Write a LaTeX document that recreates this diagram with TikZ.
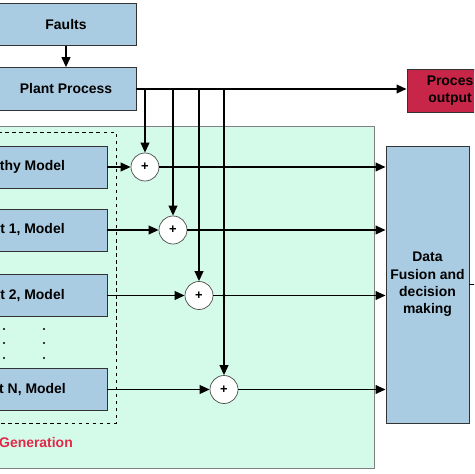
\documentclass[tikz,border=0pt]{standalone}
\usepackage{xcolor}
\usepackage{fontspec}
\setmainfont{Liberation Sans}
\usetikzlibrary{shapes.geometric, arrows.meta}
\definecolor{boxblue}{RGB}{170,204,226}
\definecolor{outred}{RGB}{200,38,72}
\definecolor{resgreen}{RGB}{212,250,234}
\definecolor{labelred}{RGB}{226,40,72}
\tikzstyle{block} = [rectangle, minimum width=4.2cm, minimum height=1.28cm, align=center, draw=black!80, line width=0.8pt, fill=boxblue, font=\fontsize{11.9}{14.8}\selectfont\bfseries]
\tikzstyle{model} = [block, minimum width=4.47cm, minimum height=1.26cm]
\tikzstyle{output} = [block, fill=outred, minimum width=2.58cm, minimum height=1.29cm]
\tikzstyle{fusion} = [block, minimum width=2.49cm, minimum height=8.31cm]
\tikzstyle{sum} = [circle, minimum size=0.84cm, inner sep=0pt, draw=black!70, line width=0.6pt, fill=white, font=\fontsize{11}{11}\selectfont\bfseries]
\tikzstyle{arrow} = [line width=1.5pt, -{Triangle[length=3mm,width=2.6mm]}]
\tikzstyle{wire} = [line width=1.5pt]
\tikzstyle{joint} = [circle, fill=black, inner sep=0pt, minimum size=1.1mm]

\begin{document}
\begin{tikzpicture}[x=0.3mm, y=-0.3mm, node distance=1.935cm]
\useasboundingbox (0,0) rectangle (474,474);
\clip (0,0) rectangle (474,474);
% residual generation area
\draw[draw=gray, fill=resgreen, line width=0.8pt] (-10,126) rectangle (374,468);
\draw[dashed, line width=0.8pt] (-10,132) rectangle (116,423);
\node (resgen) [anchor=east, text=labelred, font=\fontsize{11.9}{14.1}\selectfont\bfseries, inner sep=0pt] at (73,443) {Generation};

\node (faults) [block] at (66,24.5) {Faults};
\node (plant) [block, below of=faults] {Plant Process};
\node (procout) [output] at (450,90.5) {Proces\\output};

\node (healthy) [model] at (32.5,167) {thy Model};
\node (fault1) [model] at (32.5,230) {t 1, Model};
\node (fault2) [model] at (32.5,295.5) {t 2, Model};
\node (faultn) [model] at (32.5,389.5) {t N, Model};
% more fault models
\foreach \y in {329,343,358}
  \foreach \x in {4,44}
    \fill (\x,\y) circle (0.35mm);

\node (sum1) [sum] at (145,167) {+};
\node (sum2) [sum] at (173,230) {+};
\node (sum3) [sum] at (199,295.5) {+};
\node (sum4) [sum] at (224,389.5) {+};

\node (fusion) [fusion] at (427.5,284.5) {Data\\Fusion and\\decision\\making};
\coordinate (fusionout) at (500,284.5);

\draw[arrow] (faults) -- (plant);
\draw[arrow] (plant.east) -- (plant.east -| procout.west);
\foreach \s in {1,...,4}
  \draw[arrow] (plant.east -| sum\s.north) -- (sum\s.north);
\draw[arrow] (healthy) -- (sum1);
\draw[arrow] (fault1) -- (sum2);
\draw[arrow] (fault2) -- (sum3);
\draw[arrow] (faultn) -- (sum4);
\foreach \s in {1,...,4}
  \draw[arrow] (sum\s.east) -- (sum\s.east -| fusion.west);
\foreach \r/\c in {1/2,1/3,1/4,2/3,2/4,3/4}
  \node (j\r\c) [joint] at (sum\r -| sum\c) {};
\draw[wire] (fusion.east) -- (fusionout);
\end{tikzpicture}
\end{document}
